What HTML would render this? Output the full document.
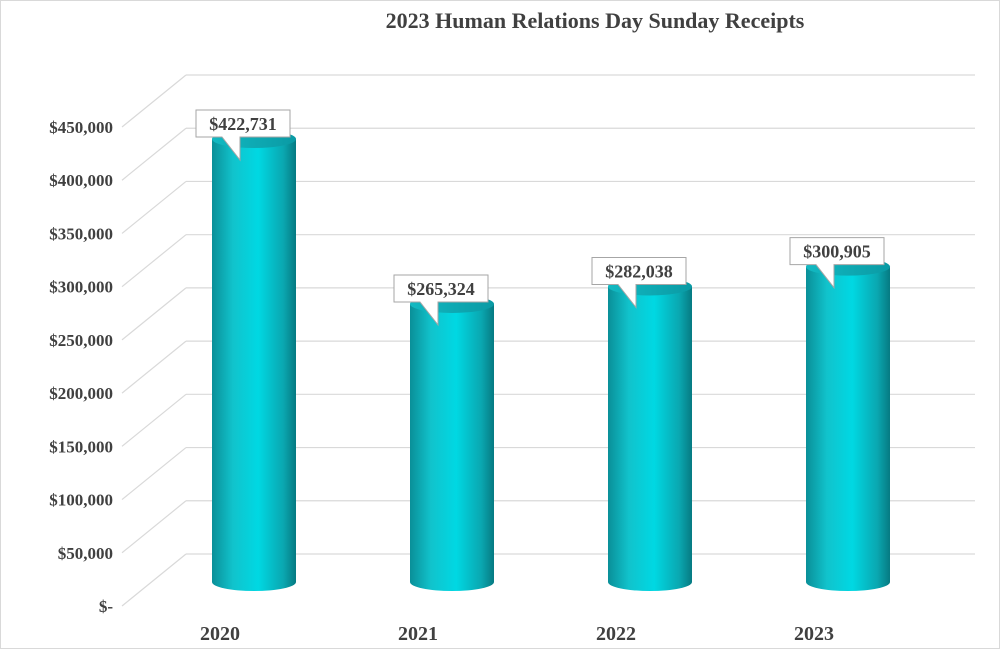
<!DOCTYPE html>
<html><head><meta charset="utf-8"><style>
body{margin:0;background:#fff;}
svg{display:block;font-family:"Liberation Serif",serif;}
</style></head><body>
<svg id="chart" width="1000" height="649" viewBox="0 0 1000 649">
<defs>
<linearGradient id="cyl" x1="0" x2="1" y1="0" y2="0">
<stop offset="0" stop-color="#0a8f98"/><stop offset="0.25" stop-color="#11c3cc"/>
<stop offset="0.55" stop-color="#00d8e3"/><stop offset="0.85" stop-color="#0aa7b0"/><stop offset="1" stop-color="#067a82"/>
</linearGradient>
<linearGradient id="topg" x1="0" x2="1"><stop offset="0" stop-color="#12b9c2"/><stop offset="1" stop-color="#0a9aa4"/></linearGradient>
</defs>
<rect x="0.5" y="0.5" width="999" height="648" fill="#fff" stroke="#d9d9d9"/>
<text x="595" y="28" text-anchor="middle" font-size="22" font-weight="bold" fill="#404040">2023 Human Relations Day Sunday Receipts</text>
<g id="grid"></g><g id="bars"></g><g id="labels"></g>
</svg>
<script>
const categories=["2020","2021","2022","2023"];
const values=[422731,265324,282038,300905];
const valueLabels=["$422,731","$265,324","$282,038","$300,905"];
const tickValues=[0,50000,100000,150000,200000,250000,300000,350000,400000,450000];
const tickLabels=["$-","$50,000","$100,000","$150,000","$200,000","$250,000","$300,000","$350,000","$400,000","$450,000"];
const NS="http://www.w3.org/2000/svg";
function mk(t,a,p){const e=document.createElementNS(NS,t);for(const k in a)e.setAttribute(k,a[k]);p.appendChild(e);return e;}
const yFront=v=>606-v*(479/450000);
const yBar=v=>582-v*(443/422731);
const xBar=i=>254+i*198;
const grid=document.getElementById('grid'),bars=document.getElementById('bars'),labels=document.getElementById('labels');
tickValues.forEach((v,i)=>{
 const yf=yFront(v),yb=yf-52;
 let l=mk('line',{x1:122,y1:yf,x2:186,y2:yb,stroke:'#d9d9d9','stroke-width':1.2},grid);
 
 let h=mk('line',{x1:186,y1:yb,x2:975,y2:yb,stroke:'#d9d9d9','stroke-width':1.2},grid);
 
 let t=mk('text',{x:113,y:yf+6,'text-anchor':'end','font-size':17,'font-weight':'bold',fill:'#404040'},grid);
 t.textContent=tickLabels[i];
 
});
categories.forEach((c,i)=>{
 const cx=xBar(i),w=84,rx=w/2,ry=9,yb=582,yt=yBar(values[i]);
 const g=mk('g',{},bars);
 
 mk('path',{d:`M${cx-rx},${yt} L${cx-rx},${yb} A${rx},${ry} 0 0 0 ${cx+rx},${yb} L${cx+rx},${yt} Z`,fill:'url(#cyl)'},g);
 mk('ellipse',{cx:cx,cy:yt,rx:rx,ry:ry,fill:'url(#topg)'},g);
 const t=mk('text',{x:cx-34,y:640,'text-anchor':'middle','font-size':20,'font-weight':'bold',fill:'#404040'},labels);
 t.textContent=c;
 
 const bx=cx-58,by=yt-29,bw=94,bh=27;
 const cg=mk('g',{},labels);
 
 mk('path',{d:`M${bx},${by} h${bw} v${bh} h-${bw-44} L${cx-14},${yt+21} L${bx+26},${by+bh} h-26 Z`,fill:'#fff',stroke:'#a6a6a6','stroke-width':1},cg);
 const vt=mk('text',{x:bx+bw/2,y:by+20,'text-anchor':'middle','font-size':18,'font-weight':'bold',fill:'#404040'},cg);
 vt.textContent=valueLabels[i];
});
</script>
</body></html>
